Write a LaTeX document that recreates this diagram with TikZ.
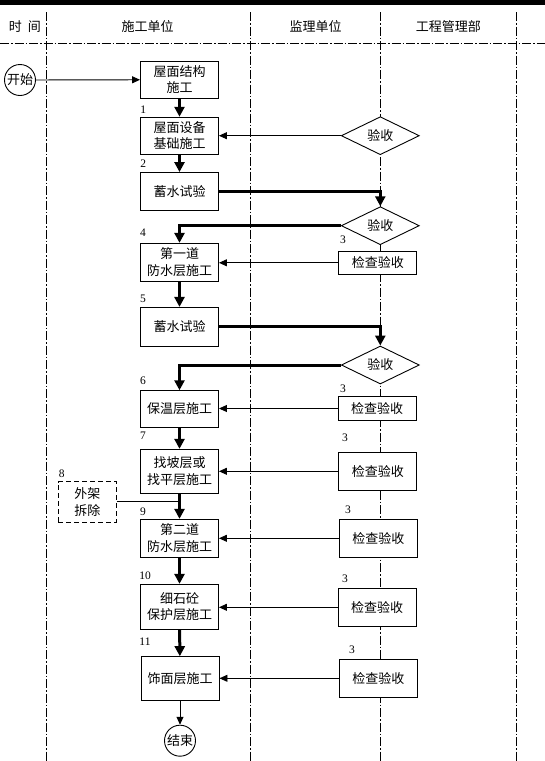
\documentclass[tikz,border=0pt]{standalone}
\usepackage{fontspec}
\setmainfont{Liberation Serif}
\newfontfamily\cjk{Noto Sans CJK SC}
\usetikzlibrary{arrows.meta,shapes.geometric,calc}
\begin{document}
\begin{tikzpicture}[x=1pt,y=-1pt,
  txt/.style={font=\cjk\fontsize{13}{16.5}\selectfont, align=center, inner sep=0pt},
  stepbox/.style={txt, draw, line width=0.9pt, fill=white, minimum width=78pt, minimum height=#1},
  stepbox/.default=38pt,
  checkbox/.style={txt, draw, line width=0.9pt, fill=white, minimum width=78pt, minimum height=#1},
  checkbox/.default=38pt,
  decision/.style={txt, shape=diamond, aspect=2, draw, line width=0.9pt, fill=white, minimum width=78pt, minimum height=38pt},
  terminal/.style={txt, shape=circle, draw, line width=0.9pt, fill=white, minimum size=31pt},
  num/.style={font=\fontsize{11.5}{12}\selectfont, inner sep=0pt},
  lane/.style={line width=0.9pt, dash pattern=on 9pt off 2pt on 1.5pt off 2pt},
  thickarr/.style={line width=3pt, -{Triangle[width=10pt,length=10pt]}},
  thinarr/.style={line width=0.9pt, -{Triangle[width=7pt,length=8pt]}},
  plain/.style={line width=0.9pt}
]
\useasboundingbox (0,0) rectangle (545,761);
% top bar and lanes
\fill (0,0) rectangle (545,4.5);
\draw[lane] (0,43.3) -- (545,43.3);
\foreach \xx in {46,250.5,380.3,516.7} { \draw[lane] (\xx,12) -- (\xx,761); }
% headers
\node[txt] (h0) at (25,27) {时\hspace{6pt}间};
\node[txt] (h1) at (147.7,27) {施工单位};
\node[txt] (h2) at (315.7,27) {监理单位};
\node[txt] (h3) at (448.3,27) {工程管理部};
% left column
\node[terminal] (start) at (20,80) {开始};
\node[stepbox=37pt] (b0) at (179.5,79.7) {屋面结构\\施工};
\node[stepbox=37pt] (b1) at (179.5,135.7) {屋面设备\\基础施工};
\node[stepbox=38pt] (b2) at (179.5,191.5) {蓄水试验};
\node[stepbox=38pt] (b3) at (179.5,262.3) {第一道\\防水层施工};
\node[stepbox=38.7pt] (b4) at (179.5,326.7) {蓄水试验};
\node[stepbox=36.6pt] (b5) at (179.5,409) {保温层施工};
\node[stepbox=44pt] (b6) at (179.5,471.3) {找坡层或\\找平层施工};
\node[stepbox=38pt] (b7) at (179.5,538.3) {第二道\\防水层施工};
\node[stepbox=45pt] (b8) at (179.5,606.8) {细石砼\\保护层施工};
\node[stepbox=43.3pt] (b9) at (180,678.3) {饰面层施工};
\node[terminal] (end) at (180,740.7) {结束};
\node[txt, draw, line width=0.9pt, dash pattern=on 5pt off 3pt, minimum width=58pt, minimum height=40.3pt] (wj) at (87.3,501.8) {外架\\拆除};
% right column
\node[decision] (d1) at (380.3,135.7) {验收};
\node[decision] (d2) at (380.3,225.7) {验收};
\node[decision] (d3) at (380.3,365) {验收};
\node[checkbox=23pt] (c1) at (377.8,262.8) {检查验收};
\node[checkbox=23.6pt] (c2) at (377.2,408.5) {检查验收};
\node[checkbox=38pt] (c3) at (377.8,471.3) {检查验收};
\node[checkbox=38pt] (c4) at (378.3,538.3) {检查验收};
\node[checkbox=38pt] (c5) at (377.2,607.3) {检查验收};
\node[checkbox=38pt] (c6) at (378.3,678.3) {检查验收};
% numbers
\node[num] (n1) at (143.3,109.3) {1};
\node[num] (n2) at (143.3,163.3) {2};
\node[num] (n4) at (143,232.7) {4};
\node[num] (n5) at (143,298.3) {5};
\node[num] (n6) at (143,380.7) {6};
\node[num] (n7) at (143,436) {7};
\node[num] (n8) at (61.7,473.3) {8};
\node[num] (n9) at (143,511.7) {9};
\node[num] (n10) at (145,576) {10};
\node[num] (n11) at (145,641.7) {11};
\node[num] (m1) at (343,240) {3};
\node[num] (m2) at (343,389) {3};
\node[num] (m3) at (345,437.7) {3};
\node[num] (m4) at (348,510) {3};
\node[num] (m5) at (345,578.3) {3};
\node[num] (m6) at (352,649.3) {3};
% connectors
\draw[thinarr] (start) -- (b0);
\draw[thickarr] (b0) -- (b1);
\draw[thickarr] (b1) -- (b2);
\draw[thinarr] (d1.west) -- (b1.east |- d1.west);
\draw[thickarr] (b2.east) -| (d2.north);
\draw[thickarr] (d2.west) -| (b3.north);
\draw[thinarr] (c1.west) -- (b3.east |- c1.west);
\draw[thickarr] (b3) -- (b4);
\draw[thickarr] (b4.east) -| (d3.north);
\draw[thickarr] (d3.west) -| (b5.north);
\draw[thinarr] (c2.west) -- (b5.east |- c2.west);
\draw[thickarr] (b5) -- (b6);
\draw[thinarr] (c3.west) -- (b6.east |- c3.west);
\draw[thickarr] (b6) -- (b7);
\draw[plain] (wj.east) -- (wj.east -| b6.south);
\draw[thinarr] (c4.west) -- (b7.east |- c4.west);
\draw[thickarr] (b7) -- (b8);
\draw[thinarr] (c5.west) -- (b8.east |- c5.west);
\draw[thickarr] (b8) -- (b9);
\draw[thinarr] (c6.west) -- (b9.east |- c6.west);
\draw[thinarr] (b9) -- (end);
\end{tikzpicture}
\end{document}
